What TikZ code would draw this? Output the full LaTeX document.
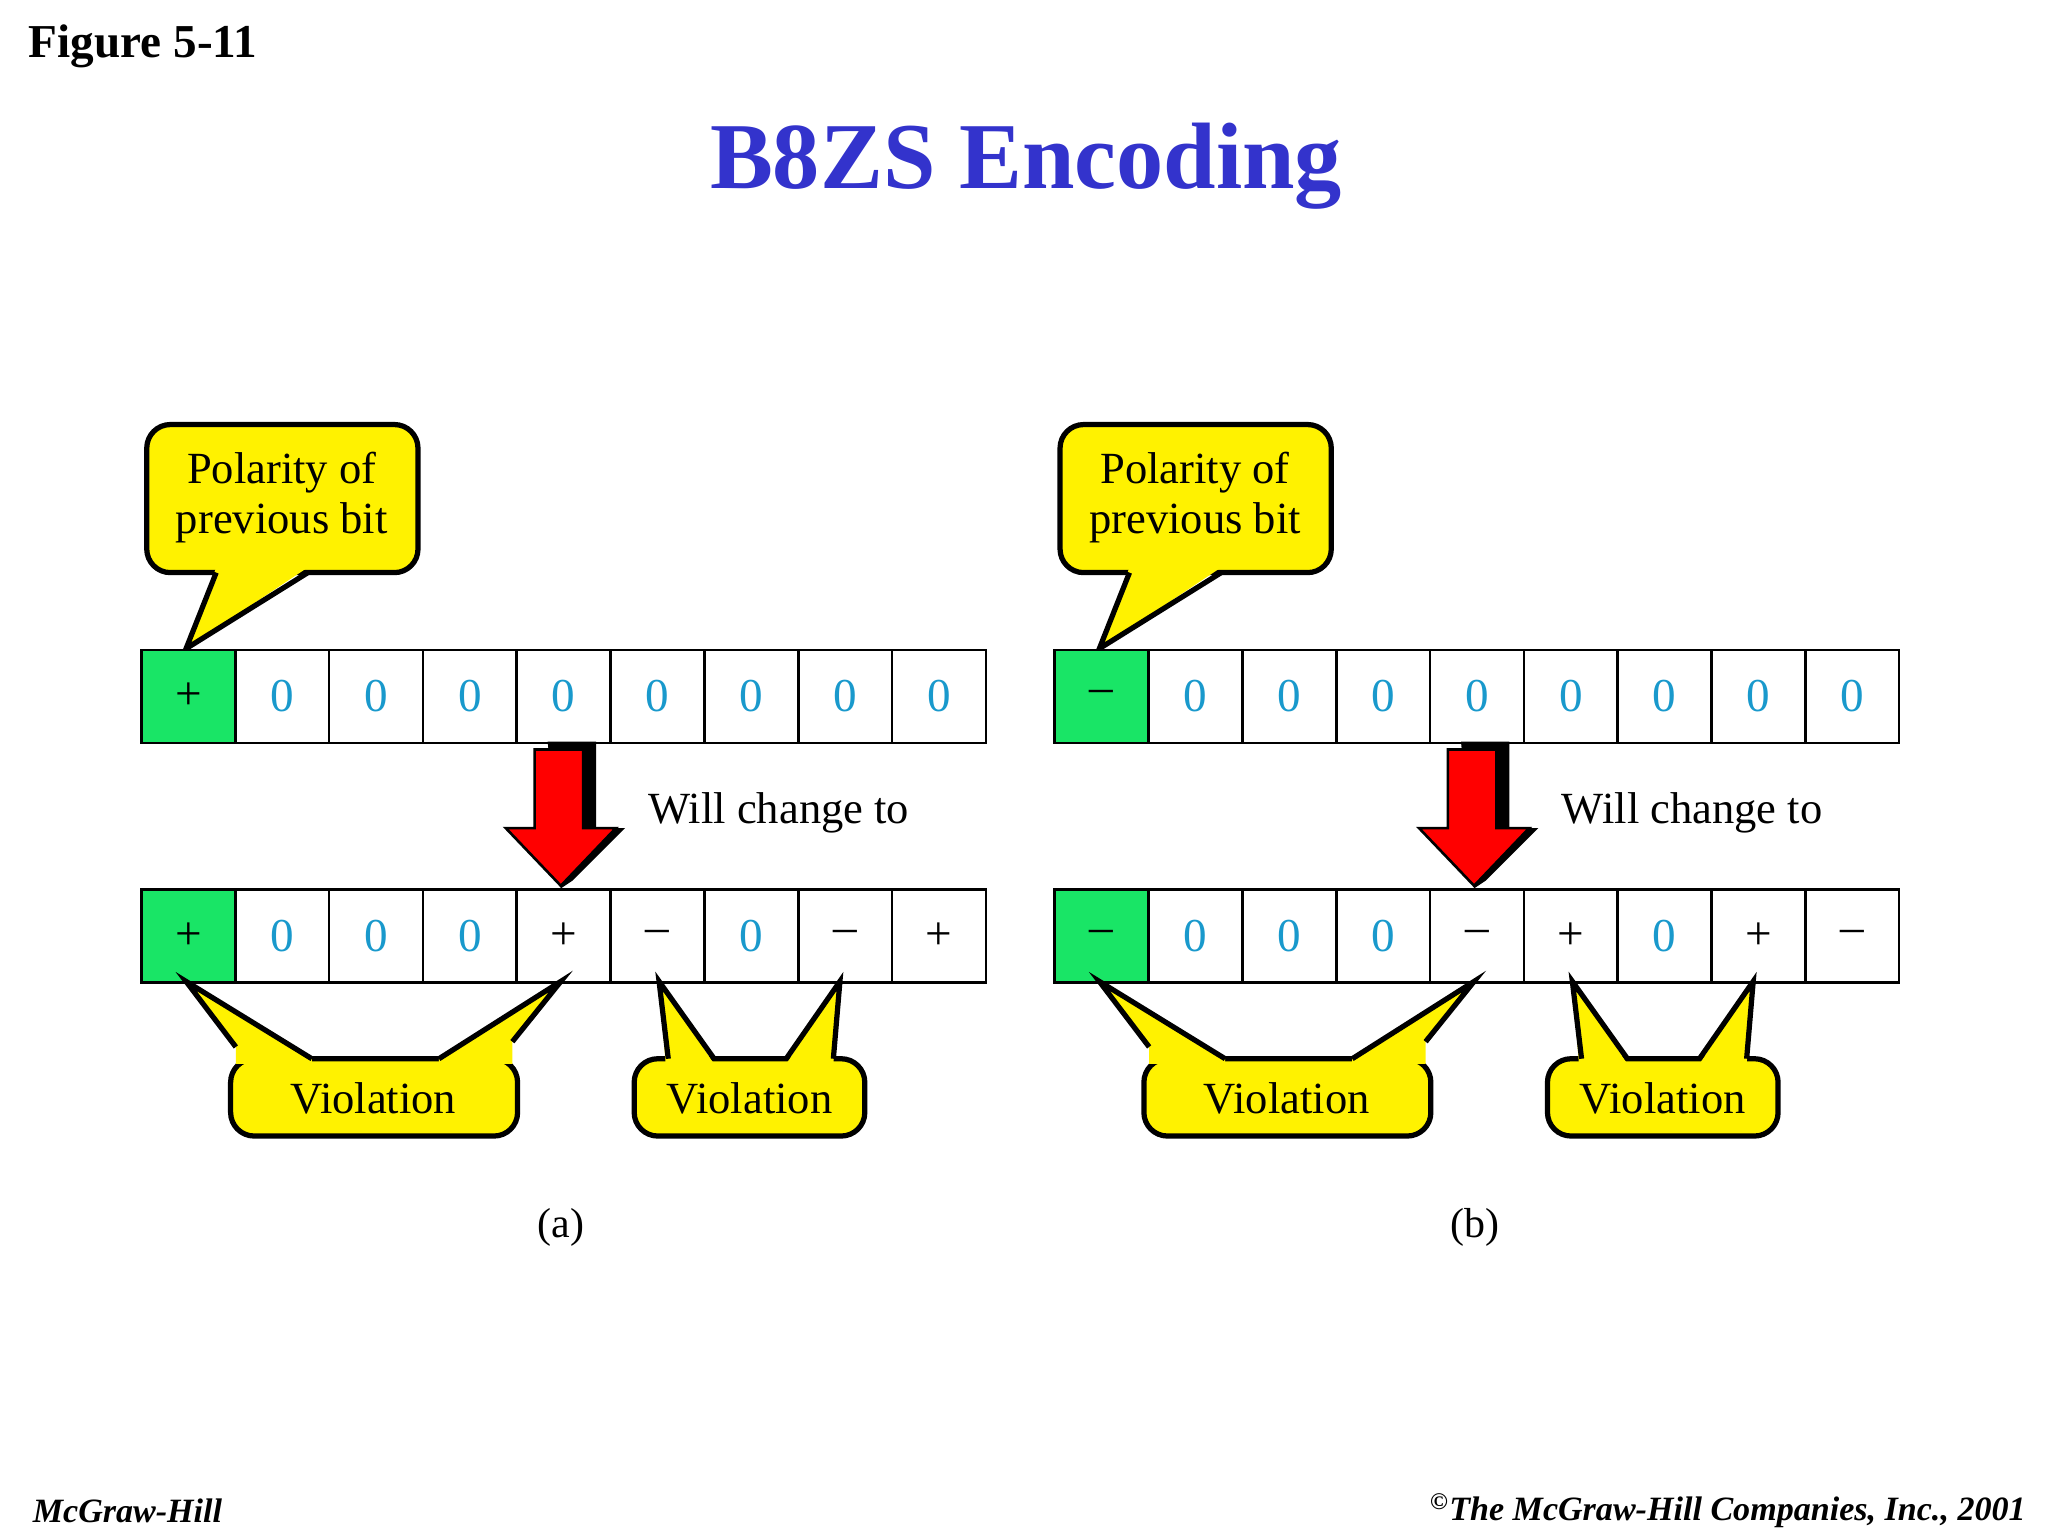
\documentclass[tikz,border=0pt]{standalone}
\usepackage{fontspec}
\setmainfont{Liberation Serif}
\definecolor{ttl}{rgb}{0.2,0.2,0.8}
\definecolor{zc}{rgb}{0.1,0.6,0.8}
\definecolor{gc}{rgb}{0.1,0.9,0.4}
\begin{document}
\begin{tikzpicture}[x=0.5pt,y=-0.5pt,
  cell/.style={draw,line width=1pt,minimum width=35.8pt,minimum height=35.5pt,inner sep=0pt,anchor=north west,font=\fontsize{18}{20}\selectfont},
  zr/.style={text=zc},
  pl/.style={},
  gr/.style={fill=gc},
  callbox/.style={draw,line width=2pt,fill=yellow,rounded corners=9pt},
  calltxt/.style={font=\fontsize{17}{19}\selectfont,align=center}]
\useasboundingbox (0,0) rectangle (1563,1173);
\node[anchor=west,font=\bfseries\fontsize{18}{20}\selectfont] (fig) at (15,35) {Figure 5-11};
\node[font=\bfseries\fontsize{36}{40}\selectfont,text=ttl] (title) at (783,127) {B8ZS Encoding};
\newcommand{\panel}[4]{%
\begin{scope}[xshift=#1]
 \draw[callbox] (112,324) rectangle (319,437);
 \fill[yellow] (165,433) -- (235,433) -- (142,495) -- cycle;
 \draw[line width=2pt] (165,437) -- (142,495) -- (235,437);
 \node[calltxt] (pol#4) at (215,380) {Polarity of\\previous bit};
 \foreach \st/\s [count=\i from 0] in {#2}{
   \pgfmathsetmacro{\xx}{107+71.6*\i}
   \node[cell,\st] (t#4\i) at (\xx,495) {\s};}
 \foreach \st/\s [count=\i from 0] in {#3}{
   \pgfmathsetmacro{\xx}{107+71.6*\i}
   \node[cell,\st] (b#4\i) at (\xx,678) {\s};}
 \fill[black] (418,566) -- (455,566) -- (455,632) -- (477,632) -- (437,672) -- (428,678) -- cycle;
 \draw[line width=1pt,fill=red] (408,572) -- (445,572) -- (445,632) -- (470,632) -- (428,676) -- (386,632) -- (408,632) -- cycle;
 \node[anchor=west,font=\fontsize{17}{19}\selectfont] (wc#4) at (488,620) {Will change to};
 \draw[callbox] (176,808) rectangle (395,867);
 \fill[yellow] (180,812) -- (180,799) -- (142,749) -- (238,808) -- (238,812) -- cycle;
 \fill[yellow] (335,812) -- (335,808) -- (428,749) -- (391,795) -- (391,812) -- cycle;
 \draw[line width=2pt] (180,799) -- (142,749) -- (238,808);
 \draw[line width=2pt] (335,808) -- (428,749) -- (391,795);
 \node[calltxt] (v1#4) at (285,838) {Violation};
 \draw[callbox] (484,808) rectangle (660,867);
 \fill[yellow] (508,812) -- (545,812) -- (503,749) -- cycle;
 \fill[yellow] (600,812) -- (636,812) -- (641,749) -- cycle;
 \draw[line width=2pt] (510,808) -- (503,749) -- (545,808);
 \draw[line width=2pt] (600,808) -- (641,749) -- (636,808);
 \node[calltxt] (v2#4) at (572,838) {Violation};
\end{scope}}
\panel{0}{gr/+,zr/0,zr/0,zr/0,zr/0,zr/0,zr/0,zr/0,zr/0}{gr/+,zr/0,zr/0,zr/0,pl/+,pl/--,zr/0,pl/--,pl/+}{a}
\panel{348.5pt}{gr/--,zr/0,zr/0,zr/0,zr/0,zr/0,zr/0,zr/0,zr/0}{gr/--,zr/0,zr/0,zr/0,pl/--,pl/+,zr/0,pl/+,pl/--}{b}
\node[font=\fontsize{16}{18}\selectfont] (la) at (428,937) {(a)};
\node[font=\fontsize{16}{18}\selectfont] (lb) at (1126,937) {(b)};
\node[anchor=west,font=\itshape\bfseries\fontsize{13}{15}\selectfont] (mg) at (18,1153) {McGraw-Hill};
\node[anchor=east,font=\itshape\bfseries\fontsize{13}{15}\selectfont] (cp) at (1553,1153) {\textsuperscript{©}The McGraw-Hill Companies, Inc., 2001};
\end{tikzpicture}
\end{document}
